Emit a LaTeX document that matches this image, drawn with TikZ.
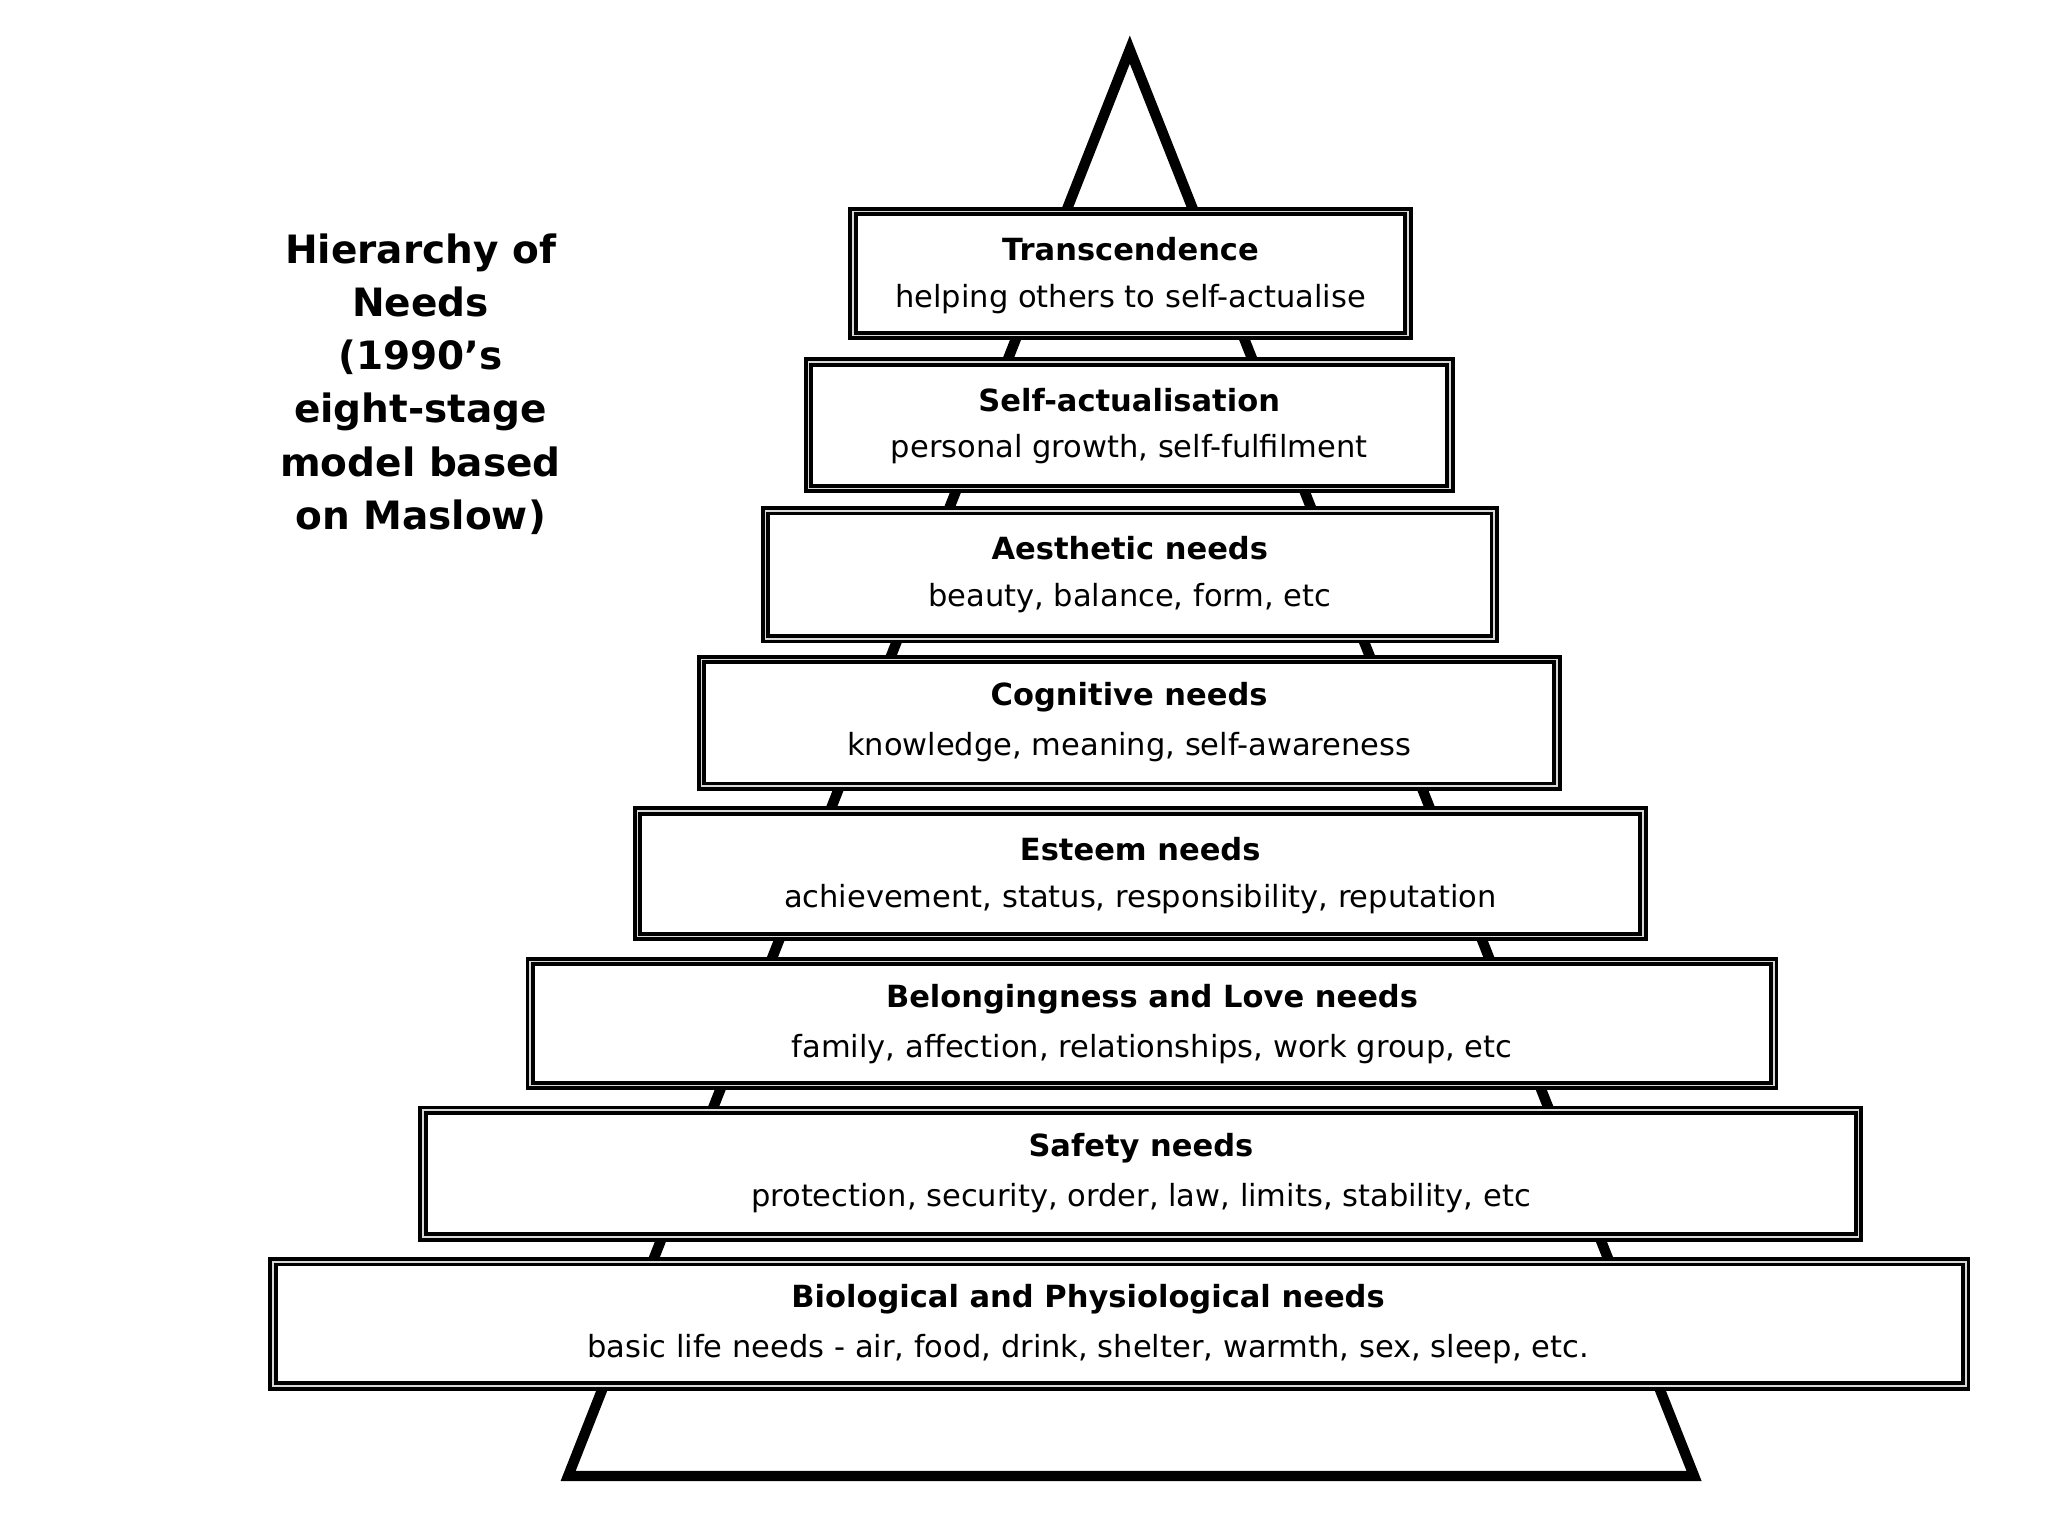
\documentclass[tikz,border=0pt]{standalone}
\usepackage{fontspec}
\setmainfont{DejaVu Sans}
\begin{document}
\begin{tikzpicture}[x=0.02cm,y=-0.02cm,
  lvl/.style={draw=black,line width=1.7pt,fill=white,double=white!70!gray,double distance=0.7pt},
  hd/.style={font=\fontsize{13.3}{15}\selectfont\bfseries},
  sb/.style={font=\fontsize{13.3}{15}\selectfont}]
\useasboundingbox (0,0) rectangle (1568,1176);
\coordinate (apex) at (865,38);
\coordinate (bl) at (435,1130);
\coordinate (br) at (1297,1130);
\draw[line width=4.5pt,line join=miter] (bl) -- (apex) -- (br) -- cycle;
\newcommand{\lvlbox}[8]{%
  \draw[lvl] (#2,#4) rectangle (#3,#5);
  \node[hd] (#1h) at ({(#2+#3)/2+#8},#4+29) {#6};
  \node[sb] (#1s) at ({(#2+#3)/2+#8},#4+67) {#7};}
\lvlbox{t}{653}{1078}{162}{257}{Transcendence}{helping others to self-actualise}{0}
\lvlbox{s}{619}{1110}{277}{374}{Self-actualisation}{personal growth, self-fulfilment}{0}
\lvlbox{a}{586}{1144}{391}{489}{Aesthetic needs}{beauty, balance, form, etc}{0}
\lvlbox{c}{537}{1192}{505}{602}{Cognitive needs}{knowledge, meaning, self-awareness}{0}
\lvlbox{e}{488}{1258}{621}{717}{Esteem needs}{achievement, status, responsibility, reputation}{0}
\lvlbox{b}{406}{1358}{736}{831}{Belongingness and Love needs}{family, affection, relationships, work group, etc}{0}
\lvlbox{f}{324}{1423}{850}{947}{Safety needs}{protection, security, order, law, limits, stability, etc}{0}
\lvlbox{p}{209}{1505}{966}{1061}{Biological and Physiological needs}{basic life needs - air, food, drink, shelter, warmth, sex, sleep, etc.}{-24}
\node[font=\fontsize{17}{23.2}\selectfont\bfseries,align=center] (title) at (322,294)
 {Hierarchy of\\Needs\\(1990's\\eight-stage\\model based\\on Maslow)};
\end{tikzpicture}
\end{document}
